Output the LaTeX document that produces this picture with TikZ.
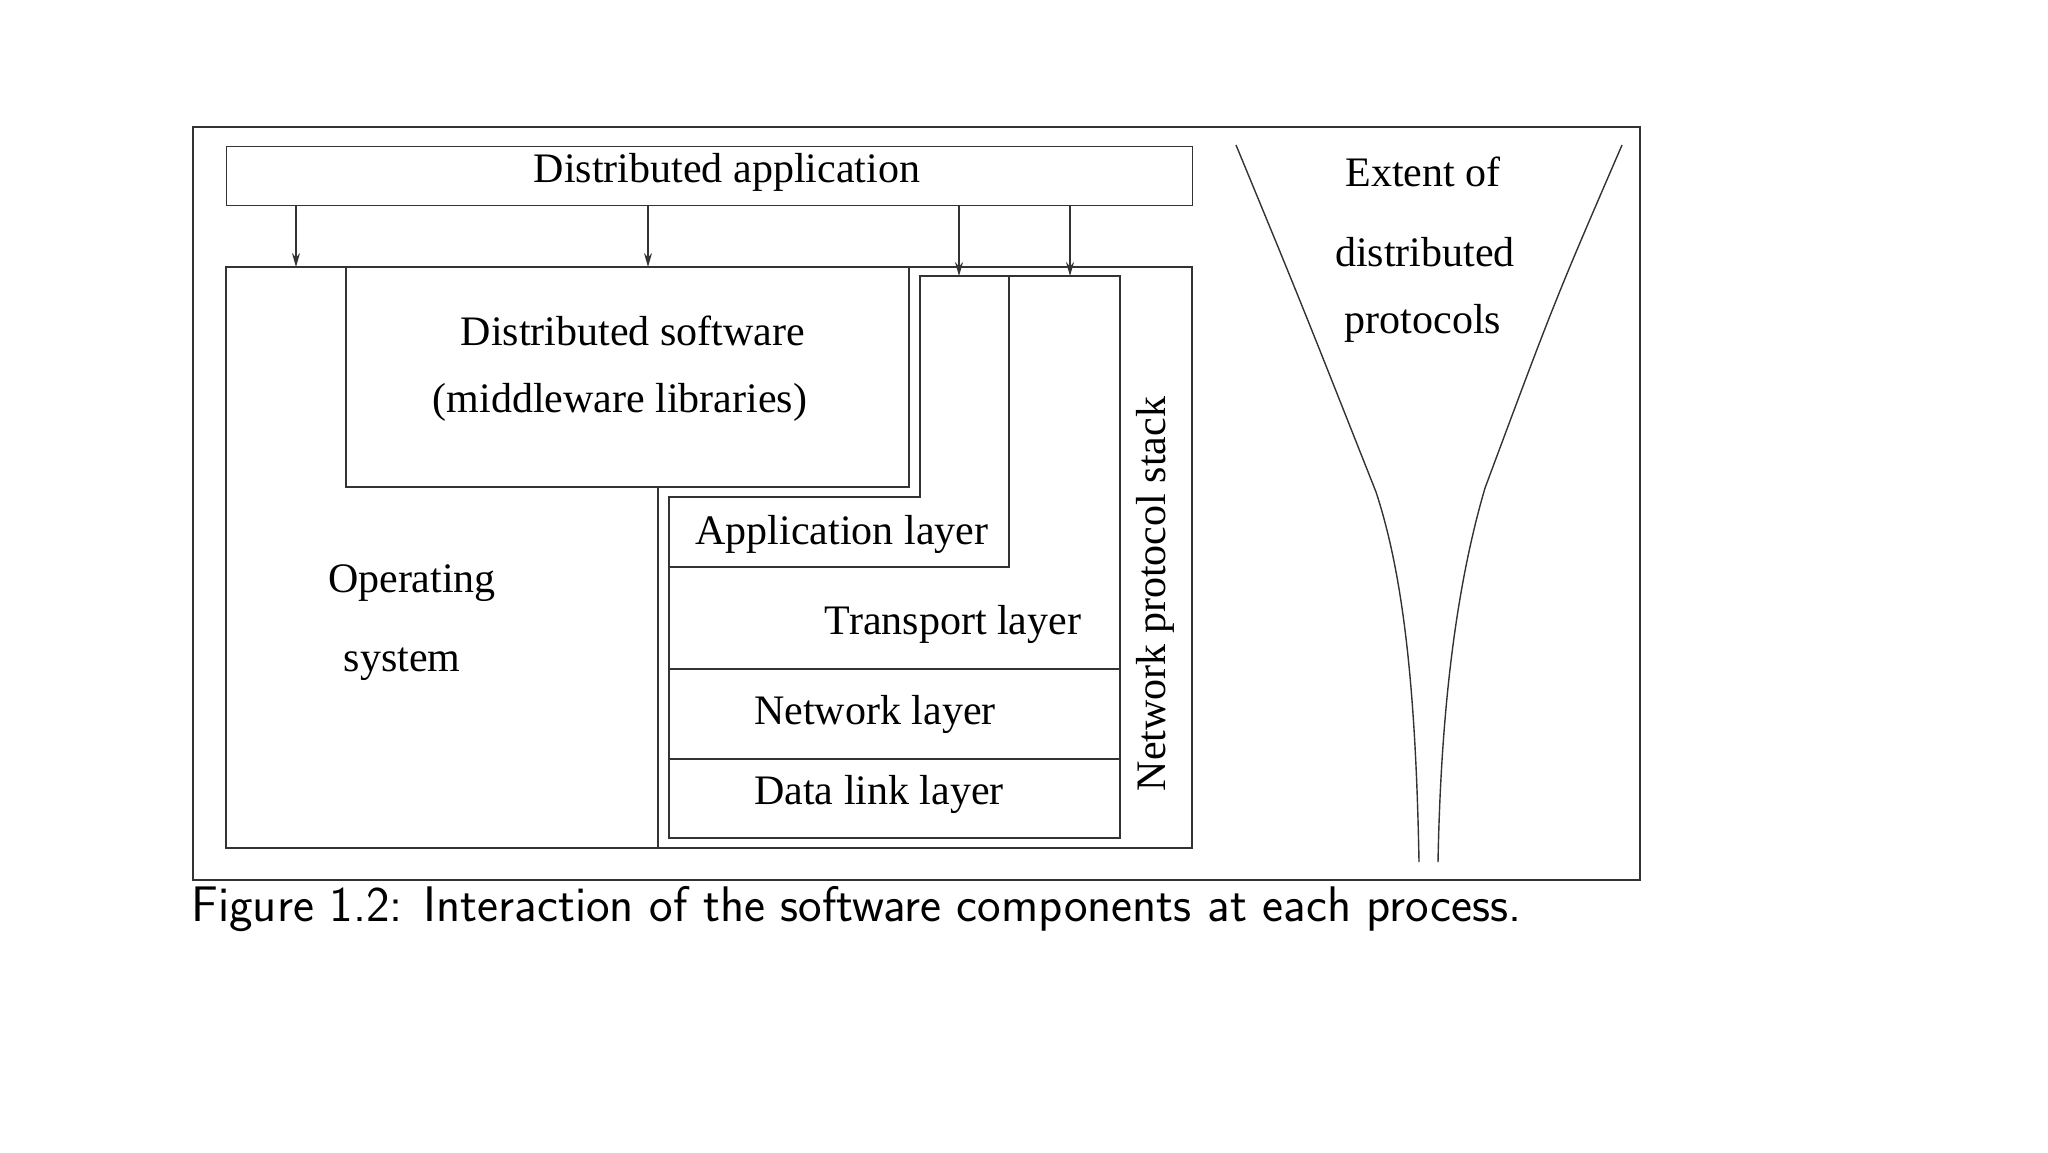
\documentclass[tikz,border=0pt]{standalone}
\usetikzlibrary{arrows.meta}
\usepackage{fontspec}
\setmainfont{Liberation Serif}
\newfontfamily\capfont{Latin Modern Sans}
\begin{document}
\begin{tikzpicture}[x=0.5pt,y=-0.5pt,
  ln/.style={draw=black!80,line width=0.7pt},
  lbl/.style={font=\fontsize{21}{25}\selectfont,inner sep=0pt},
  arr/.style={ln,-{Stealth[length=7pt,width=4pt]}}]
\useasboundingbox (0,0) rectangle (2048,1152);
\draw[ln] (193,127) rectangle (1640,880);
\node[ln,minimum width=483pt,minimum height=29.5pt,inner sep=0pt,anchor=north west] (app) at (226,146) {};
\node[lbl] (apptxt) at (727,172) {Distributed application};
\draw[ln] (226,267) rectangle (1192,848);
\draw[ln] (346,267) rectangle (909,487);
\draw[ln] (658,487) -- (658,848);
\draw[ln,line width=1.2pt] (920,276) -- (1120,276) -- (1120,838) -- (669,838) -- (669,497) -- (920,497) -- cycle;
\draw[ln] (1009,276) -- (1009,567) -- (669,567);
\draw[ln] (669,669) -- (1120,669);
\draw[ln] (669,759) -- (1120,759);
\coordinate (a1) at (296,267); \coordinate (a2) at (648,267);
\coordinate (a3) at (959,276); \coordinate (a4) at (1070,276);
\draw[arr] (app.south west -| a1) -- (a1);
\draw[arr] (app.south west -| a2) -- (a2);
\draw[arr] (app.south west -| a3) -- (a3);
\draw[arr] (app.south west -| a4) -- (a4);
\node[lbl] (ds) at (633,331) {Distributed software};
\node[lbl] (mw) at (620,402) {(middleware libraries)};
\node[lbl] (os1) at (412,583) {Operating};
\node[lbl] (os2) at (402,664) {system};
\node[lbl] (al) at (842,534) {Application layer};
\node[lbl] (tl) at (953,624) {Transport layer};
\node[lbl] (nl) at (875,714) {Network layer};
\node[lbl] (dl) at (879,794) {Data link layer};
\node[lbl,rotate=90] (nps) at (1155,594) {Network protocol stack};
\node[lbl] (e1) at (1423,172) {Extent of};
\node[lbl] (e2) at (1425,252) {distributed};
\node[lbl] (e3) at (1423,323) {protocols};
\draw[ln] (1236,145) .. controls (1300,300) .. (1376,492) .. controls (1405,580) and (1416,700) .. (1419,862);
\draw[ln] (1622,145) .. controls (1555,300) .. (1485,488) .. controls (1458,580) and (1441,700) .. (1438,862);
\node[anchor=west,inner sep=0pt,font=\capfont\fontsize{25}{30}\selectfont] (cap) at (191,909) {Figure 1.2: Interaction of the software components at each process.};
\end{tikzpicture}
\end{document}
